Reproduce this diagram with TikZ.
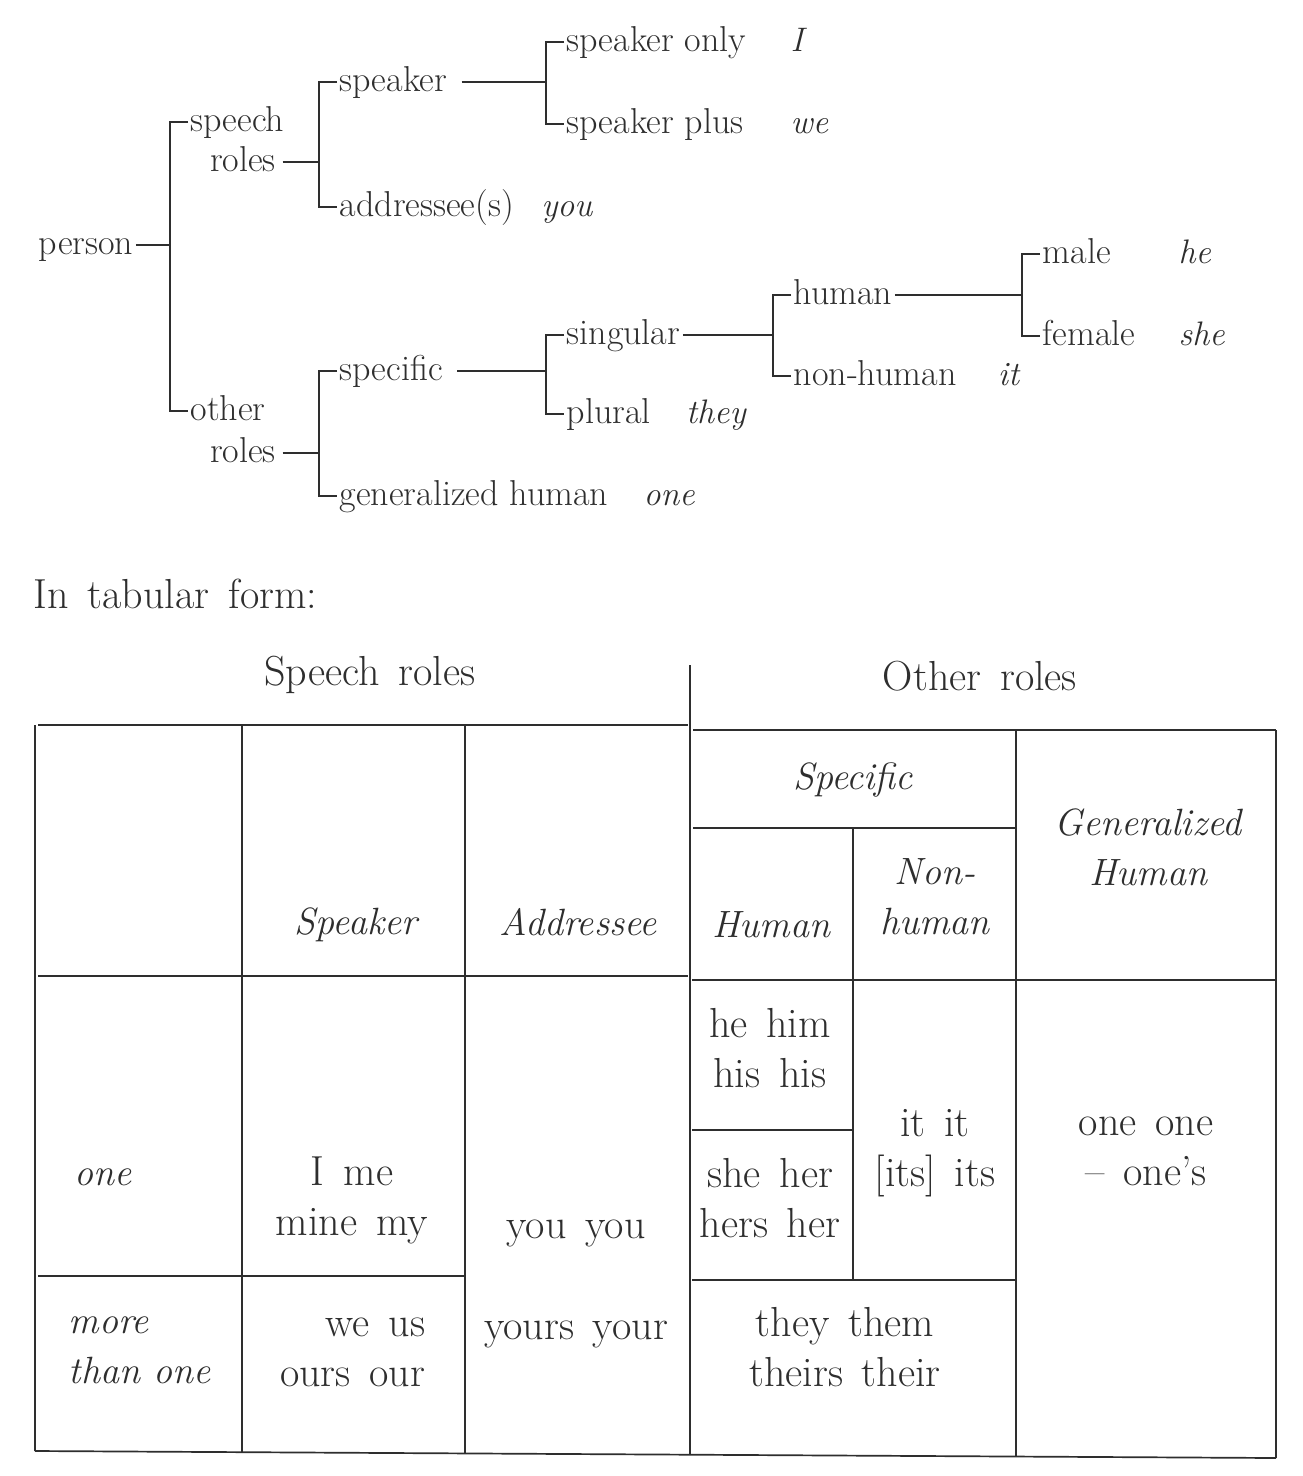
\documentclass[tikz,border=0pt]{standalone}
\usetikzlibrary{positioning, calc}
\begin{document}
\begin{tikzpicture}[x=1pt, y=-1pt, line width=1.4pt, color=black!82,
    term/.style={inner xsep=2pt, inner ysep=0pt, anchor=west, text height=25pt, text depth=7pt, font=\fontsize{36}{40}\selectfont},
    pron/.style={term, font=\fontsize{34}{40}\selectfont\itshape},
    cell/.style={inner sep=0pt, align=center, font=\fontsize{42}{50}\selectfont, execute at begin node={\spaceskip=0.45em\relax}},
    head/.style={cell, font=\fontsize{38}{50}\selectfont\itshape, execute at begin node={\spaceskip=0pt\relax}},
    oneline/.style={text height=29pt, text depth=8pt},
    rule/.style={line width=1.7pt}]
    \fill[white] (0,0) rectangle (1302,1476);
    \useasboundingbox (0,0) rectangle (1302,1476);

        % Tree nodes
        \node[term] (Person) at (36,245) {person};
        \node[term] (Speech) at (188,122) {speech};
        \node[term, anchor=center] (RolesA) at (243,162) {roles};
        \node[term] (Speaker) at (337,82) {speaker};
        \node[term] (Addressee) at (337,207) {addressee(s)};
        \node[term] (SpOnly) at (564,42) {speaker only};
        \node[term] (SpPlus) at (564,124) {speaker plus};
        \node[term] (Other) at (188,411) {other};
        \node[term, anchor=center] (RolesB) at (243,453) {roles};
        \node[term] (Specific) at (337,371) {specific};
        \node[term] (GenHuman) at (337,496) {generalized human};
        \node[term] (Singular) at (564,335) {singular};
        \node[term] (Plural) at (564,414) {plural};
        \node[term] (Human) at (791,295) {human};
        \node[term] (NonHuman) at (791,376) {non-human};
        \node[term] (Male) at (1040,254) {male};
        \node[term] (Female) at (1040,336) {female};

        % Pronouns
        \node[pron] (PrI) at (788,42) {I};
        \node[pron] (PrWe) at (788,124) {we};
        \node[pron, right=22pt of Addressee] (PrYou) {you};
        \node[pron, right=30pt of Plural] (PrThey) {they};
        \node[pron, right=36pt of NonHuman] (PrIt) {it};
        \node[pron, right=30pt of GenHuman] (PrOne) {one};
        \node[pron] (PrHe) at (1176,254) {he};
        \node[pron] (PrShe) at (1176,336) {she};

        % Brackets
        \coordinate (BarA) at ($(Speech.west)+(-18,0)$);
        \draw (Speech.west) -- (BarA) |- (Other.west);
        \draw (Person.east) -- (Person.east -| BarA);

        \coordinate (BarB) at ($(Speaker.west)+(-18,0)$);
        \draw (Speaker.west) -- (BarB) |- (Addressee.west);
        \draw[shorten <=4pt] (RolesA.east) -- (RolesA.east -| BarB);

        \coordinate (BarC) at ($(SpOnly.west)+(-18,0)$);
        \draw (SpOnly.west) -- (BarC) |- (SpPlus.west);
        \draw[shorten <=12pt] (Speaker.east) -- (Speaker.east -| BarC);

        \coordinate (BarD) at ($(Specific.west)+(-18,0)$);
        \draw (Specific.west) -- (BarD) |- (GenHuman.west);
        \draw[shorten <=4pt] (RolesB.east) -- (RolesB.east -| BarD);

        \coordinate (BarE) at ($(Singular.west)+(-18,0)$);
        \draw (Singular.west) -- (BarE) |- (Plural.west);
        \draw[shorten <=12pt] (Specific.east) -- (Specific.east -| BarE);

        \coordinate (BarF) at ($(Human.west)+(-18,0)$);
        \draw (Human.west) -- (BarF) |- (NonHuman.west);
        \draw (Singular.east) -- (Singular.east -| BarF);

        \coordinate (BarG) at ($(Male.west)+(-18,0)$);
        \draw (Male.west) -- (BarG) |- (Female.west);
        \draw (Human.east) -- (Human.east -| BarG);

        % Table headings
        \node[cell, oneline, anchor=west, font=\fontsize{42}{50}\selectfont] (Tabular) at (33,598) {In tabular form:};
        \node[cell, oneline] (HSpeech) at (370,675) {Speech roles};
        \node[cell, oneline] (HOther) at (980,680) {Other roles};
        \node[head, oneline] (CSpecific) at (853,779) {Specific};
        \node[head] (CGeneral) at (1148,847) {Generalized\\Human};
        \node[head, oneline] (CSpeaker) at (356,924) {Speaker};
        \node[head, oneline] (CAddressee) at (578,925) {Addressee};
        \node[head, oneline] (CHuman) at (771,927) {Human};
        \node[head] (CNonHuman) at (935,897) {Non-\\human};

        % Table cells
        \node[head, oneline, anchor=west] (ROne) at (74,1175) {one};
        \node[head, anchor=west, align=left] (RMore) at (68,1350) {more\\than one};
        \node[cell] (PSing) at (352,1200) {I me\\mine my};
        \node[cell, anchor=east, align=right] (PPlur) at (426,1352) {we us\\ours our};
        \node[cell, oneline] (PYouA) at (576,1228) {you you};
        \node[cell, oneline] (PYouB) at (576,1329) {yours your};
        \node[cell] (PHe) at (770,1048) {he him\\his his};
        \node[cell] (PShe) at (770,1198) {she her\\hers her};
        \node[cell] (PIt) at (935,1153) {it it\\{[its]} its};
        \node[cell] (POne) at (1146,1151) {one one\\-- one's};
        \node[cell] (PThey) at (845,1347) {they them\\theirs their};

        % Table rules
        \draw[rule] (38,725) -- (688,725);
        \draw[rule] (693,730) -- (1276,730);
        \draw[rule] (693,828) -- (1016,828);
        \draw[rule] (38,976) -- (688,976);
        \draw[rule] (692,980) -- (1276,980);
        \draw[rule] (692,1130) -- (853,1130);
        \draw[rule] (38,1276) -- (465,1276);
        \draw[rule] (692,1280) -- (1016,1280);
        \draw[rule] (35,1451) -- (1276,1458);
        \draw[rule] (35,725) -- (35,1451);
        \draw[rule] (242,725) -- (242,1452);
        \draw[rule] (465,725) -- (465,1453);
        \draw[rule] (690,665) -- (690,1455);
        \draw[rule] (853,828) -- (853,1280);
        \draw[rule] (1016,730) -- (1016,1456);
        \draw[rule] (1276,730) -- (1276,1458);
    \end{tikzpicture}
\end{document}
